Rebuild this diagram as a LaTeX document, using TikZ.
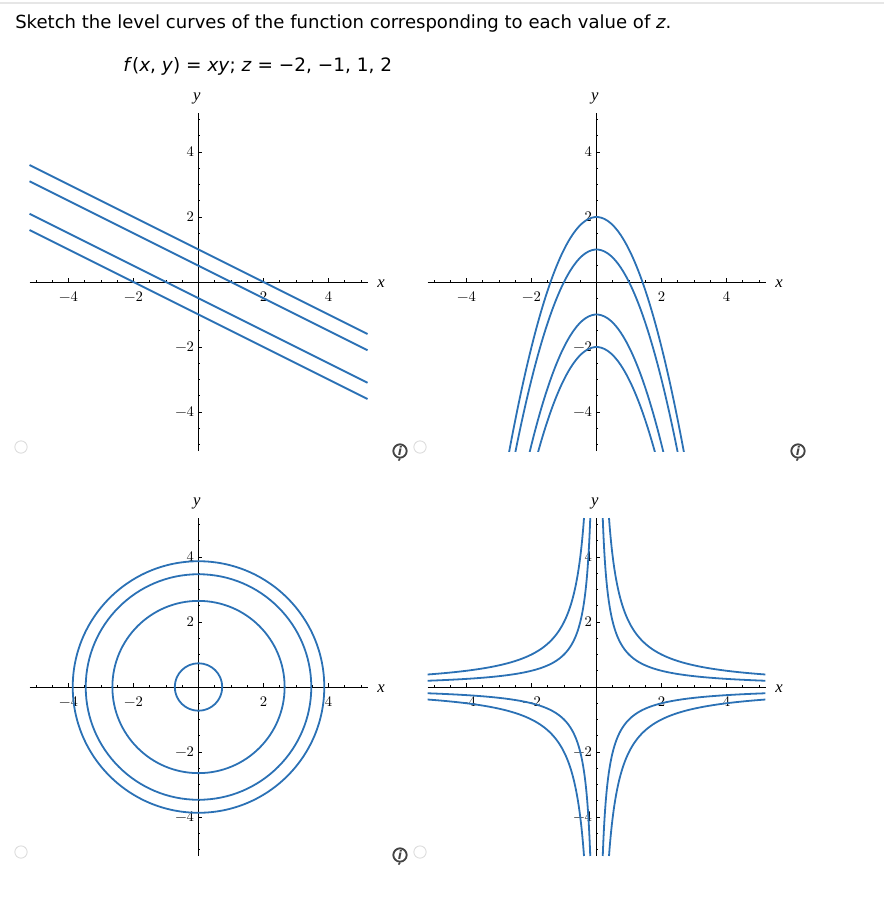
\documentclass[tikz,border=0pt]{standalone}
\usepackage{fontspec}
\setmainfont{DejaVu Sans}
\newfontfamily\tickfont{Latin Modern Roman}
\newfontfamily\labelfont{Liberation Serif}
\usepackage{amsmath}

\definecolor{curveblue}{HTML}{2B71B5}
\definecolor{icongray}{HTML}{444444}
\definecolor{radiogray}{HTML}{DDDDDD}
\definecolor{stripgray}{HTML}{E6E6E6}

\tikzset{
    axisline/.style={black, line width=0.75pt},
    tickline/.style={black, line width=0.5pt},
    ticktext/.style={inner sep=0pt, font=\tickfont\fontsize{11}{12}\selectfont},
    axistext/.style={inner sep=0pt, font=\labelfont\itshape\fontsize{12.5}{13}\selectfont},
    curve/.style={curveblue, line width=1.35pt},
    radio/.style={draw=radiogray, fill=white, circle, line width=0.7pt, minimum size=9.2pt, inner sep=0pt},
    info/.style={draw=icongray, circle, line width=1.4pt, minimum size=10pt, inner sep=0pt, text=icongray, font=\bfseries\itshape\fontsize{9}{9}\selectfont},
    panel/.style={shift={#1}, x=24.375pt, y=24.375pt}
}

% axes, ticks and labels of one panel (name, origin)
\newcommand{\drawaxes}[2]{
    \begin{scope}[panel={#2}]
        \draw[axisline] (-5.2,0) -- (5.2,0);
        \draw[axisline] (0,-5.2) -- (0,5.2);
        \foreach \t in {-5,-4.5,...,5.1} {
            \draw[tickline] (\t,0) -- (\t,0.06);
            \draw[tickline] (0,\t) -- (0.05,\t);
        }
        \foreach \t/\s in {-4/{−4},-2/{−2},2/{2},4/{4}} {
            \draw[tickline] (\t,0) -- (\t,0.13);
            \draw[tickline] (0,\t) -- (0.1,\t);
            \node[ticktext] (#1x\t) at (\t,-0.46) {\s};
            \node[ticktext, anchor=east] (#1y\t) at (-0.13,\t) {\s};
        }
        \node[axistext] (#1xlabel) at (5.62,-0.06) {x};
        \node[axistext] (#1ylabel) at (-0.05,5.66) {y};
    \end{scope}
}

\newcommand{\drawinfo}[2]{
    \node[info] (#1) at (#2) {i};
    \draw[icongray, line width=1.2pt] (#1.south) -- ++(-1.5,2);
}

\begin{document}
\begin{tikzpicture}[x=0.75pt, y=-0.75pt]
    \useasboundingbox (0,0) rectangle (884,900);
    \fill[stripgray] (0,1.5) rectangle (884,4);

    \node[anchor=west, inner sep=0pt, font=\fontsize{13.55}{15}\selectfont] (title) at (15,24)
        {Sketch the level curves of the function corresponding to each value of \textit{z}.};
    \node[anchor=west, inner sep=0pt, font=\fontsize{13.85}{15}\selectfont] (formula) at (123,66)
        {\textit{f}(\textit{x}, \textit{y}) = \textit{xy}; \textit{z} = −2, −1, 1, 2};

    \drawaxes{a}{(198.5,282)}
    \drawaxes{b}{(596.5,282)}
    \drawaxes{c}{(198.5,687)}
    \drawaxes{d}{(596.5,687)}

    % straight lines
    \begin{scope}[panel={(198.5,282)}]
        \foreach \c in {1,0.5,-0.5,-1}
            \draw[curve] (-5.2,2.6+\c) -- (5.2,-2.6+\c);
    \end{scope}

    % parabolas
    \begin{scope}[panel={(596.5,282)}]
        \clip (-5.2,-5.2) rectangle (5.2,5.2);
        \foreach \c in {2,1,-1,-2}
            \draw[curve] plot[smooth, domain=-2.9:2.9, samples=60] (\x,{\c-\x*\x});
    \end{scope}

    % circles
    \begin{scope}[panel={(198.5,687)}]
        \foreach \r in {0.73,2.65,3.47,3.87}
            \draw[curve] (0,0) circle (\r);
    \end{scope}

    % hyperbolas
    \begin{scope}[panel={(596.5,687)}]
        \foreach \c/\lo in {1/-1.6487,2/-0.9555}
            \foreach \sx/\sy in {1/1,1/-1,-1/1,-1/-1}
                \draw[curve] plot[smooth, domain=\lo:1.6487, samples=70]
                    ({\sx*exp(\x)},{\sy*\c/exp(\x)});
    \end{scope}

    \node[radio] (radio a) at (21,447) {};
    \node[radio] (radio b) at (420,447) {};
    \node[radio] (radio c) at (21,852) {};
    \node[radio] (radio d) at (420,852) {};

    \drawinfo{info a}{400,451}
    \drawinfo{info b}{798,451}
    \drawinfo{info c}{400,855}
\end{tikzpicture}
\end{document}
